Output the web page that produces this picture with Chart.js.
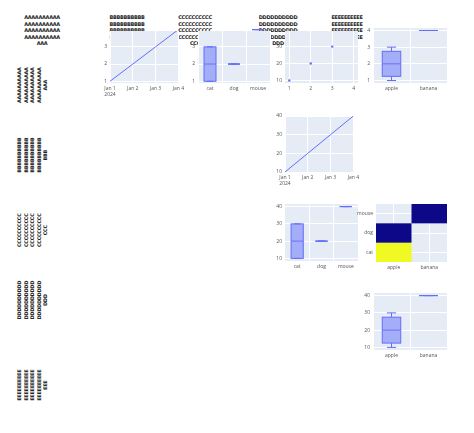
<!DOCTYPE html>
<html><head><meta charset="utf-8">
<script src="https://cdn.jsdelivr.net/npm/chart.js@4"></script>
<style>
body{margin:0;width:474px;height:433px;background:#fff;position:relative;overflow:hidden;font-family:"Open Sans",sans-serif}
canvas{position:absolute}
.t{position:absolute;font:bold 5px "DejaVu Sans",sans-serif;line-height:6.5px;text-align:center;color:#222;white-space:pre;letter-spacing:-0.3px}
.r{transform:rotate(-90deg);transform-origin:center}
</style></head><body>
<script>
const titles = ['AAA', 'BBB', 'CCC', 'DDD', 'EEE'];
const dateLabels = ['Jan 1', 'Jan 2', 'Jan 3', 'Jan 4'];
const lineSmall = [1, 2, 3, 4];
const lineBig = [10, 20, 30, 40];
const scatterX = [1, 2, 3, 4];
const scatterY = [10, 20, 30, 40];
const animals = ['cat', 'dog', 'mouse'];
const fruits = ['apple', 'banana'];
// box stats: [min, q1, median, q3, max]
const boxAnimalsSmall = [[1, 1, 2, 3, 3], [2, 2, 2, 2, 2], [4, 4, 4, 4, 4]];
const boxAnimalsBig = [[10, 10, 20, 30, 30], [20, 20, 20, 20, 20], [40, 40, 40, 40, 40]];
const boxFruitsSmall = [[1, 1.25, 2, 2.75, 3], [4, 4, 4, 4, 4]];
const boxFruitsBig = [[10, 12.5, 20, 27.5, 30], [40, 40, 40, 40, 40]];
const heatCells = [['apple', 'cat', '#f0f921'], ['apple', 'dog', '#0d0887'], ['banana', 'mouse', '#0d0887']];

// titles
const colCenters = [42, 127, 195, 278, 347];
const rowCenters = [85, 155, 230, 300, 385];
const titleText = s => (s[0].repeat(10) + '\n').repeat(4) + s;
titles.forEach((s, i) => {
  const d = document.createElement('div');
  d.className = 't'; d.textContent = titleText(s);
  d.style.left = (colCenters[i] - 25) + 'px'; d.style.top = '14px'; d.style.width = '50px';
  document.body.appendChild(d);
  const r = document.createElement('div');
  r.className = 't r'; r.textContent = titleText(s);
  r.style.left = (32 - 25) + 'px'; r.style.top = (rowCenters[i] - 16) + 'px'; r.style.width = '50px';
  document.body.appendChild(r);
});

const bgPlugin = {
  id: 'bg',
  beforeDraw: (chart) => {
    const { ctx, chartArea: a } = chart;
    ctx.save(); ctx.fillStyle = '#E5ECF6';
    ctx.fillRect(a.left, a.top, a.right - a.left, a.bottom - a.top);
    ctx.restore();
  }
};
const boxPlugin = {
  id: 'boxes',
  afterDatasetsDraw: (chart) => {
    const stats = chart.config.options.plugins.boxes;
    if (!stats) return;
    const { ctx, scales: { x, y }, chartArea: a } = chart;
    ctx.save();
    ctx.beginPath(); ctx.rect(a.left, a.top - 2, a.right - a.left, a.bottom - a.top + 4); ctx.clip();
    stats.forEach((s, i) => {
      const cx = x.getPixelForValue(i);
      const hw = (x.getPixelForValue(1) - x.getPixelForValue(0)) * 0.25;
      const py = s.map(v => y.getPixelForValue(v));
      ctx.strokeStyle = '#636efa'; ctx.lineWidth = 1;
      ctx.fillStyle = 'rgba(99,110,250,0.5)';
      ctx.fillRect(cx - hw, py[3], hw * 2, py[1] - py[3]);
      ctx.strokeRect(cx - hw, py[3], hw * 2, py[1] - py[3]);
      ctx.beginPath();
      ctx.moveTo(cx - hw, py[2]); ctx.lineTo(cx + hw, py[2]);
      ctx.moveTo(cx, py[3]); ctx.lineTo(cx, py[4]);
      ctx.moveTo(cx, py[1]); ctx.lineTo(cx, py[0]);
      ctx.moveTo(cx - hw / 2, py[4]); ctx.lineTo(cx + hw / 2, py[4]);
      ctx.moveTo(cx - hw / 2, py[0]); ctx.lineTo(cx + hw / 2, py[0]);
      ctx.stroke();
    });
    ctx.restore();
  }
};
const heatPlugin = {
  id: 'heat',
  beforeDatasetsDraw: (chart) => {
    const cells = chart.config.options.plugins.heat;
    if (!cells) return;
    const { ctx, scales: { x, y } } = chart;
    const w = Math.abs(x.getPixelForValue(1) - x.getPixelForValue(0));
    const h = Math.abs(y.getPixelForValue(0) - y.getPixelForValue(1));
    cells.forEach(([cx, cy, col]) => {
      const px = x.getPixelForValue(fruits.indexOf(cx));
      const py = y.getPixelForValue(animals.indexOf(cy));
      ctx.fillStyle = col;
      ctx.fillRect(px - w / 2, py - h / 2, w, h);
    });
  }
};

const tickFont = { size: 5, family: 'Open Sans' };
function ticks(step) {
  return { font: tickFont, color: '#555', padding: 3, maxRotation: 0, autoSkip: false };
}
function axis(extra, isY, width) {
  const a = Object.assign({
    grid: { color: '#fff', lineWidth: 1, drawTicks: false },
    border: { display: false },
    ticks: ticks(),
    afterFit: s => { if (isY) s.width = width || 16; else s.height = 14; }
  }, extra);
  return a;
}
function fixedTicks(vals) {
  return s => { s.ticks = vals.map(v => ({ value: v })); };
}
function make(left, top, w, h, cfg, yw) {
  yw = yw || 16;
  const c = document.createElement('canvas');
  c.style.left = (left - yw) + 'px'; c.style.top = top + 'px';
  c.style.width = (w + yw + 4) + 'px'; c.style.height = (h + 14) + 'px';
  c.width = w + yw + 4; c.height = h + 14;
  document.body.appendChild(c);
  cfg.options = Object.assign({
    responsive: false, animation: false, devicePixelRatio: 1,
    layout: { padding: { right: 4 } }
  }, cfg.options);
  cfg.options.plugins = Object.assign({ legend: { display: false }, tooltip: { enabled: false } }, cfg.options.plugins);
  cfg.plugins = [bgPlugin, boxPlugin, heatPlugin];
  new Chart(c.getContext('2d'), cfg);
}
function dateX() {
  return axis({ type: 'linear', min: 0, max: 3, afterBuildTicks: fixedTicks([0, 1, 2, 3]),
    ticks: Object.assign(ticks(), { callback: v => v === 0 ? [dateLabels[0], '2024'] : dateLabels[v] }) });
}
function yAxis(min, max, tv) {
  return axis({ min: min, max: max, afterBuildTicks: fixedTicks(tv) }, true);
}
function lineCfg(vals, ymin, ymax, tv) {
  return { type: 'line', data: { datasets: [{ data: vals.map((v, i) => ({ x: i, y: v })),
    borderColor: '#636efa', borderWidth: 1, pointRadius: 0 }] },
    options: { scales: { x: dateX(), y: yAxis(ymin, ymax, tv) } } };
}
function boxCfg(cats, stats, ymin, ymax, tv) {
  return { type: 'bar', data: { labels: cats, datasets: [{ data: cats.map(() => null) }] },
    options: { plugins: { boxes: stats },
      scales: { x: axis({ type: 'category', offset: true }), y: yAxis(ymin, ymax, tv) } } };
}

// row 1
make(110, 25, 73, 58, lineCfg(lineSmall, 0.9, 3.92, [1, 2, 3]));
make(198, 25, 72, 58, boxCfg(animals, boxAnimalsSmall, 0.9, 3.92, [1, 2, 3]));
make(285, 25, 73, 58, { type: 'scatter', data: { datasets: [{ data: scatterX.map((x, i) => ({ x, y: scatterY[i] })),
  backgroundColor: '#636efa', pointRadius: 1.2, borderWidth: 0 }] },
  options: { scales: { x: axis({ min: 0.8, max: 4.2, afterBuildTicks: fixedTicks([1, 2, 3, 4]) }),
    y: yAxis(8.5, 39.2, [10, 20, 30]) } } });
make(373, 22, 74, 61, boxCfg(fruits, boxFruitsSmall, 0.85, 4.15, [1, 2, 3, 4]));
// row 2
make(285, 110, 73, 62, lineCfg(lineBig, 10, 40, [10, 20, 30, 40]));
// row 3
make(285, 198, 73, 63, boxCfg(animals, boxAnimalsBig, 8.5, 41.5, [10, 20, 30, 40]));
make(376, 198, 71, 64, { type: 'scatter', data: { datasets: [] },
  options: { plugins: { heat: heatCells },
    scales: { x: axis({ type: 'category', labels: fruits, offset: true }),
      y: axis({ type: 'category', labels: animals, offset: true, reverse: true }, true, 22) } } }, 22);
// row 4
make(373, 287, 74, 63, boxCfg(fruits, boxFruitsBig, 8.5, 41.5, [10, 20, 30, 40]));
</script>
</body></html>
